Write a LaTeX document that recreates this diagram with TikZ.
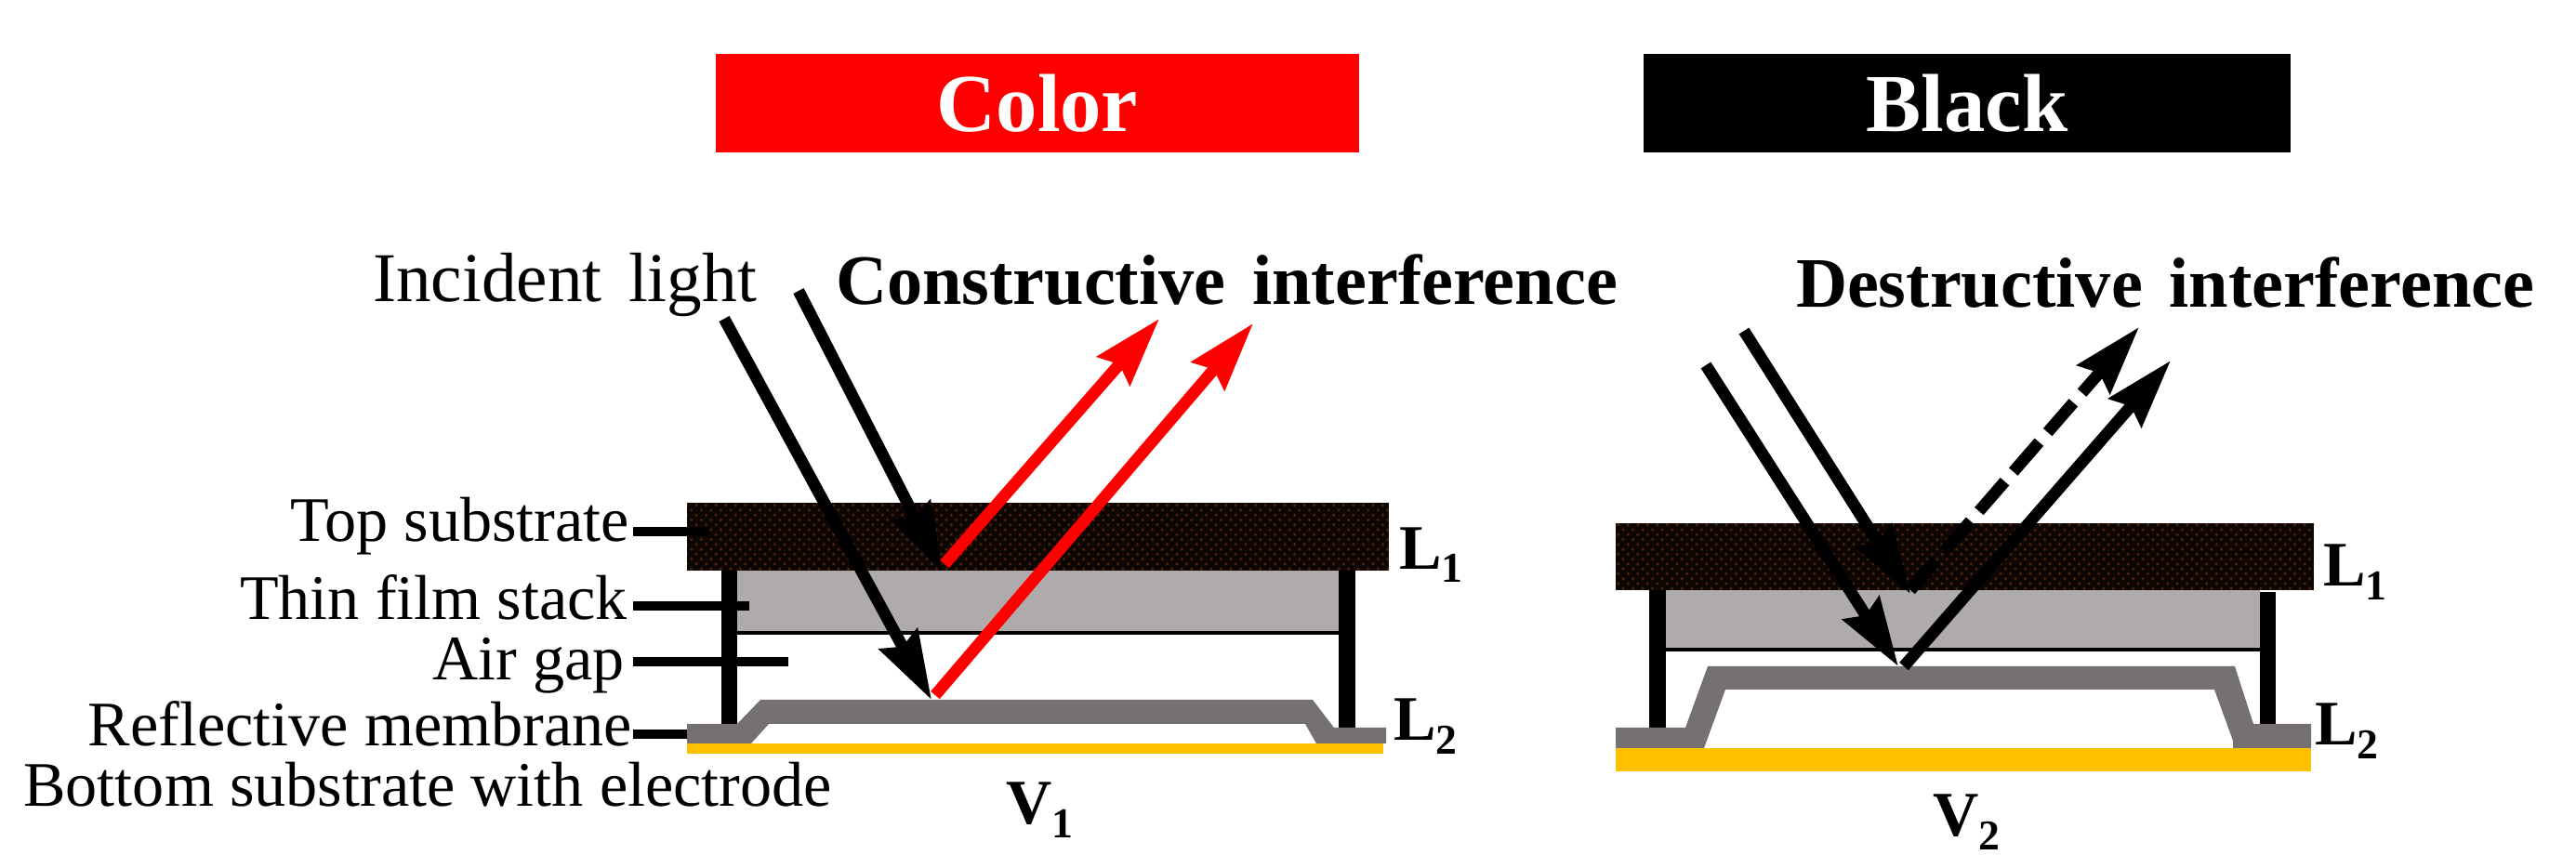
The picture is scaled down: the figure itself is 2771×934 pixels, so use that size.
\documentclass[tikz,border=0pt]{standalone}
\usepackage{fontspec}
\setmainfont[WordSpace=1.5]{Liberation Serif}
\newfontfamily\labelfont{Liberation Serif}
\usetikzlibrary{arrows.meta,patterns}
\definecolor{filmgray}{HTML}{AFABAB}
\definecolor{membranegray}{HTML}{767171}
\definecolor{electrodegold}{HTML}{FFC000}
\definecolor{substratedark}{HTML}{0D0603}
\definecolor{substratedot}{HTML}{4A2410}
\newcommand{\lowsub}[1]{\raisebox{-0.14cm}{\fontsize{13}{13}\selectfont #1}}
\tikzset{
    every node/.style={inner sep=0pt, outer sep=0pt},
    banner/.style={minimum width=#1, minimum height=1.06cm, text=white, font=\fontsize{25.2}{26}\selectfont\bfseries},
    plain/.style={anchor=base east, font=\fontsize{21.4}{24}\selectfont},
    device/.style={anchor=base east, font=\labelfont\fontsize{19.4}{22}\selectfont},
    heading/.style={anchor=base west, font=\fontsize{21.7}{24}\selectfont\bfseries},
    tag/.style={anchor=base west, font=\fontsize{19.4}{22}\selectfont\bfseries},
    leader/.style={line width=2.6pt},
    ray/.style={line width=3.6pt, -{Stealth[length=21pt, width=13pt, inset=2.5pt]}},
    substrate/.style={fill=substratedark, postaction={pattern=crosshatch dots, pattern color=substratedot}},
    film/.style={fill=filmgray},
    membrane/.style={fill=membranegray},
    electrode/.style={fill=electrodegold}
}
\begin{document}
\begin{tikzpicture}[x=0.01cm, y=-0.01cm]
    \useasboundingbox (0,0) rectangle (2771,934);
    % headers
    \node[banner=6.92cm, fill=red] (colorbox) at (1116,111) {Color};
    \node[banner=6.95cm, fill=black] (blackbox) at (2116,111) {Black};
    \node[plain] (incident) at (814,325) {Incident light};
    \node[heading] (constructive) at (899,328) {Constructive interference};
    \node[heading] (destructive) at (1932,331) {Destructive interference};

    % left device
    \fill[film] (792,614) rectangle (1440,681);
    \draw[line width=0.9pt] (792,681) -- (1440,681);
    \fill[black] (776,614) rectangle (793,780);
    \fill[black] (1440,614) rectangle (1458,784);
    \path[substrate] (739,541) rectangle (1494,614);
    \fill[membrane] (739,779) -- (793,779) -- (818,753) -- (1412,753) -- (1435,783) -- (1491,783) -- (1491,800)
        -- (1416,800) -- (1404,779) -- (827,779) -- (808,800) -- (739,800) -- cycle;
    \fill[electrode] (739,800) rectangle (1488,811);

    \node[device] (topsub) at (677,583) {Top substrate};
    \node[device] (thinfilm) at (675,667) {Thin film stack};
    \node[device] (airgap) at (672,732) {Air gap};
    \node[device] (reflective) at (680,803) {Reflective membrane};
    \node[device] (bottomsub) at (895,868) {Bottom substrate with electrode};
    \coordinate (topend) at (763,572);
    \coordinate (thinend) at (806,652);
    \coordinate (airend) at (848,712);
    \coordinate (reflend) at (739,790);
    \draw[leader] (681,572) -- (topend);
    \draw[leader] (681,652) -- (thinend);
    \draw[leader] (681,712) -- (airend);
    \draw[leader] (681,790) -- (reflend);

    \node[tag] (lonea) at (1505,613) {L\lowsub{1}};
    \node[tag] (ltwoa) at (1499,797) {L\lowsub{2}};
    \node[tag] (vone) at (1082,887) {V\lowsub{1}};

    \coordinate (ina) at (779,343);
    \coordinate (inaend) at (1002,753);
    \coordinate (inb) at (859,313);
    \coordinate (inbend) at (1014,615);
    \coordinate (outa) at (1016,607);
    \coordinate (outaend) at (1247,343);
    \coordinate (outb) at (1006,748);
    \coordinate (outbend) at (1348,348);
    \draw[ray] (ina) -- (inaend);
    \draw[ray] (inb) -- (inbend);
    \draw[ray, red] (outa) -- (outaend);
    \draw[ray, red] (outb) -- (outbend);

    % right device
    \fill[film] (1792,635) rectangle (2431,698);
    \draw[line width=0.9pt] (1792,699) -- (2431,699);
    \fill[black] (1774,635) rectangle (1792,784);
    \fill[black] (2431,637) rectangle (2448,780);
    \path[substrate] (1738,563) rectangle (2489,635);
    \fill[membrane] (1738,783) -- (1813,783) -- (1837,717) -- (2404,717) -- (2424,779) -- (2486,779) -- (2486,805)
        -- (2402,805) -- (2402,797) -- (2382,742) -- (1856,742) -- (1833,805) -- (1738,805) -- cycle;
    \fill[electrode] (1738,805) rectangle (2486,830);

    \node[tag] (loneb) at (2499,631) {L\lowsub{1}};
    \node[tag] (ltwob) at (2490,802) {L\lowsub{2}};
    \node[tag] (vtwo) at (2079,900) {V\lowsub{2}};

    \coordinate (inc) at (1835,393);
    \coordinate (incend) at (2042,717);
    \coordinate (ind) at (1876,356);
    \coordinate (indend) at (2055,639);
    \coordinate (outc) at (2055,635);
    \coordinate (outcend) at (2301,352);
    \coordinate (outd) at (2048,717);
    \coordinate (outdend) at (2335,388);
    \draw[ray] (inc) -- (incend);
    \draw[ray] (ind) -- (indend);
    \draw[ray, dash pattern=on 12pt off 4pt] (outc) -- (outcend);
    \draw[ray] (outd) -- (outdend);
\end{tikzpicture}
\end{document}
